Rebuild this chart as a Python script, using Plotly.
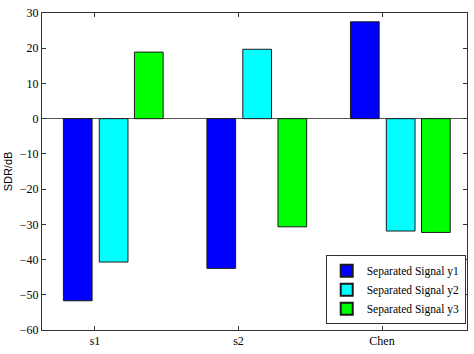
import plotly.graph_objects as go

categories = ["s1", "s2", "Chen"]
cat_pos = [1, 2, 3]
y1 = [-51.7, -42.5, 27.5]
y2 = [-40.7, 19.7, -31.9]
y3 = [18.9, -30.7, -32.3]
names = ["Separated Signal y1", "Separated Signal y2", "Separated Signal y3"]
colors = ["#0000FF", "#00FFFF", "#00FF00"]
offsets = [-0.22, 0.03, 0.275]

fig = go.Figure()
for vals, name, col, off in zip([y1, y2, y3], names, colors, offsets):
    fig.add_trace(go.Bar(
        x=cat_pos, y=vals, name=name, width=0.2, offset=off,
        marker=dict(color=col, line=dict(color="#1a1a1a", width=1)),
    ))

fig.update_layout(
    width=474, height=354,
    margin=dict(l=42, r=7, t=6, b=17),
    paper_bgcolor="white", plot_bgcolor="white",
    barmode="overlay",
    font=dict(family="Liberation Serif", size=12, color="black"),
    showlegend=True,
    legend=dict(
        x=0.997, y=0.018, xanchor="right", yanchor="bottom",
        bgcolor="white", bordercolor="#333", borderwidth=1,
        font=dict(family="Liberation Serif", size=11.5, color="black"),
        tracegroupgap=0, itemwidth=30, itemsizing="constant",
    ),
)
fig.update_xaxes(
    range=[0.631, 3.592], tickvals=cat_pos, ticktext=categories,
    ticks="inside", ticklen=4, tickcolor="#333", showline=True,
    linecolor="#333", linewidth=1, mirror="ticks", showgrid=False,
    zeroline=False, fixedrange=True,
)
fig.update_yaxes(
    range=[-60, 30], tickvals=list(range(-60, 31, 10)),
    ticks="inside", ticklen=4, tickcolor="#333", showline=True,
    linecolor="#333", linewidth=1, mirror="ticks", showgrid=False,
    zeroline=True, zerolinecolor="#555", zerolinewidth=1,
    title=dict(text="SDR/dB", font=dict(family="Liberation Sans", size=11), standoff=4),
)
fig.write_html("out.html")
